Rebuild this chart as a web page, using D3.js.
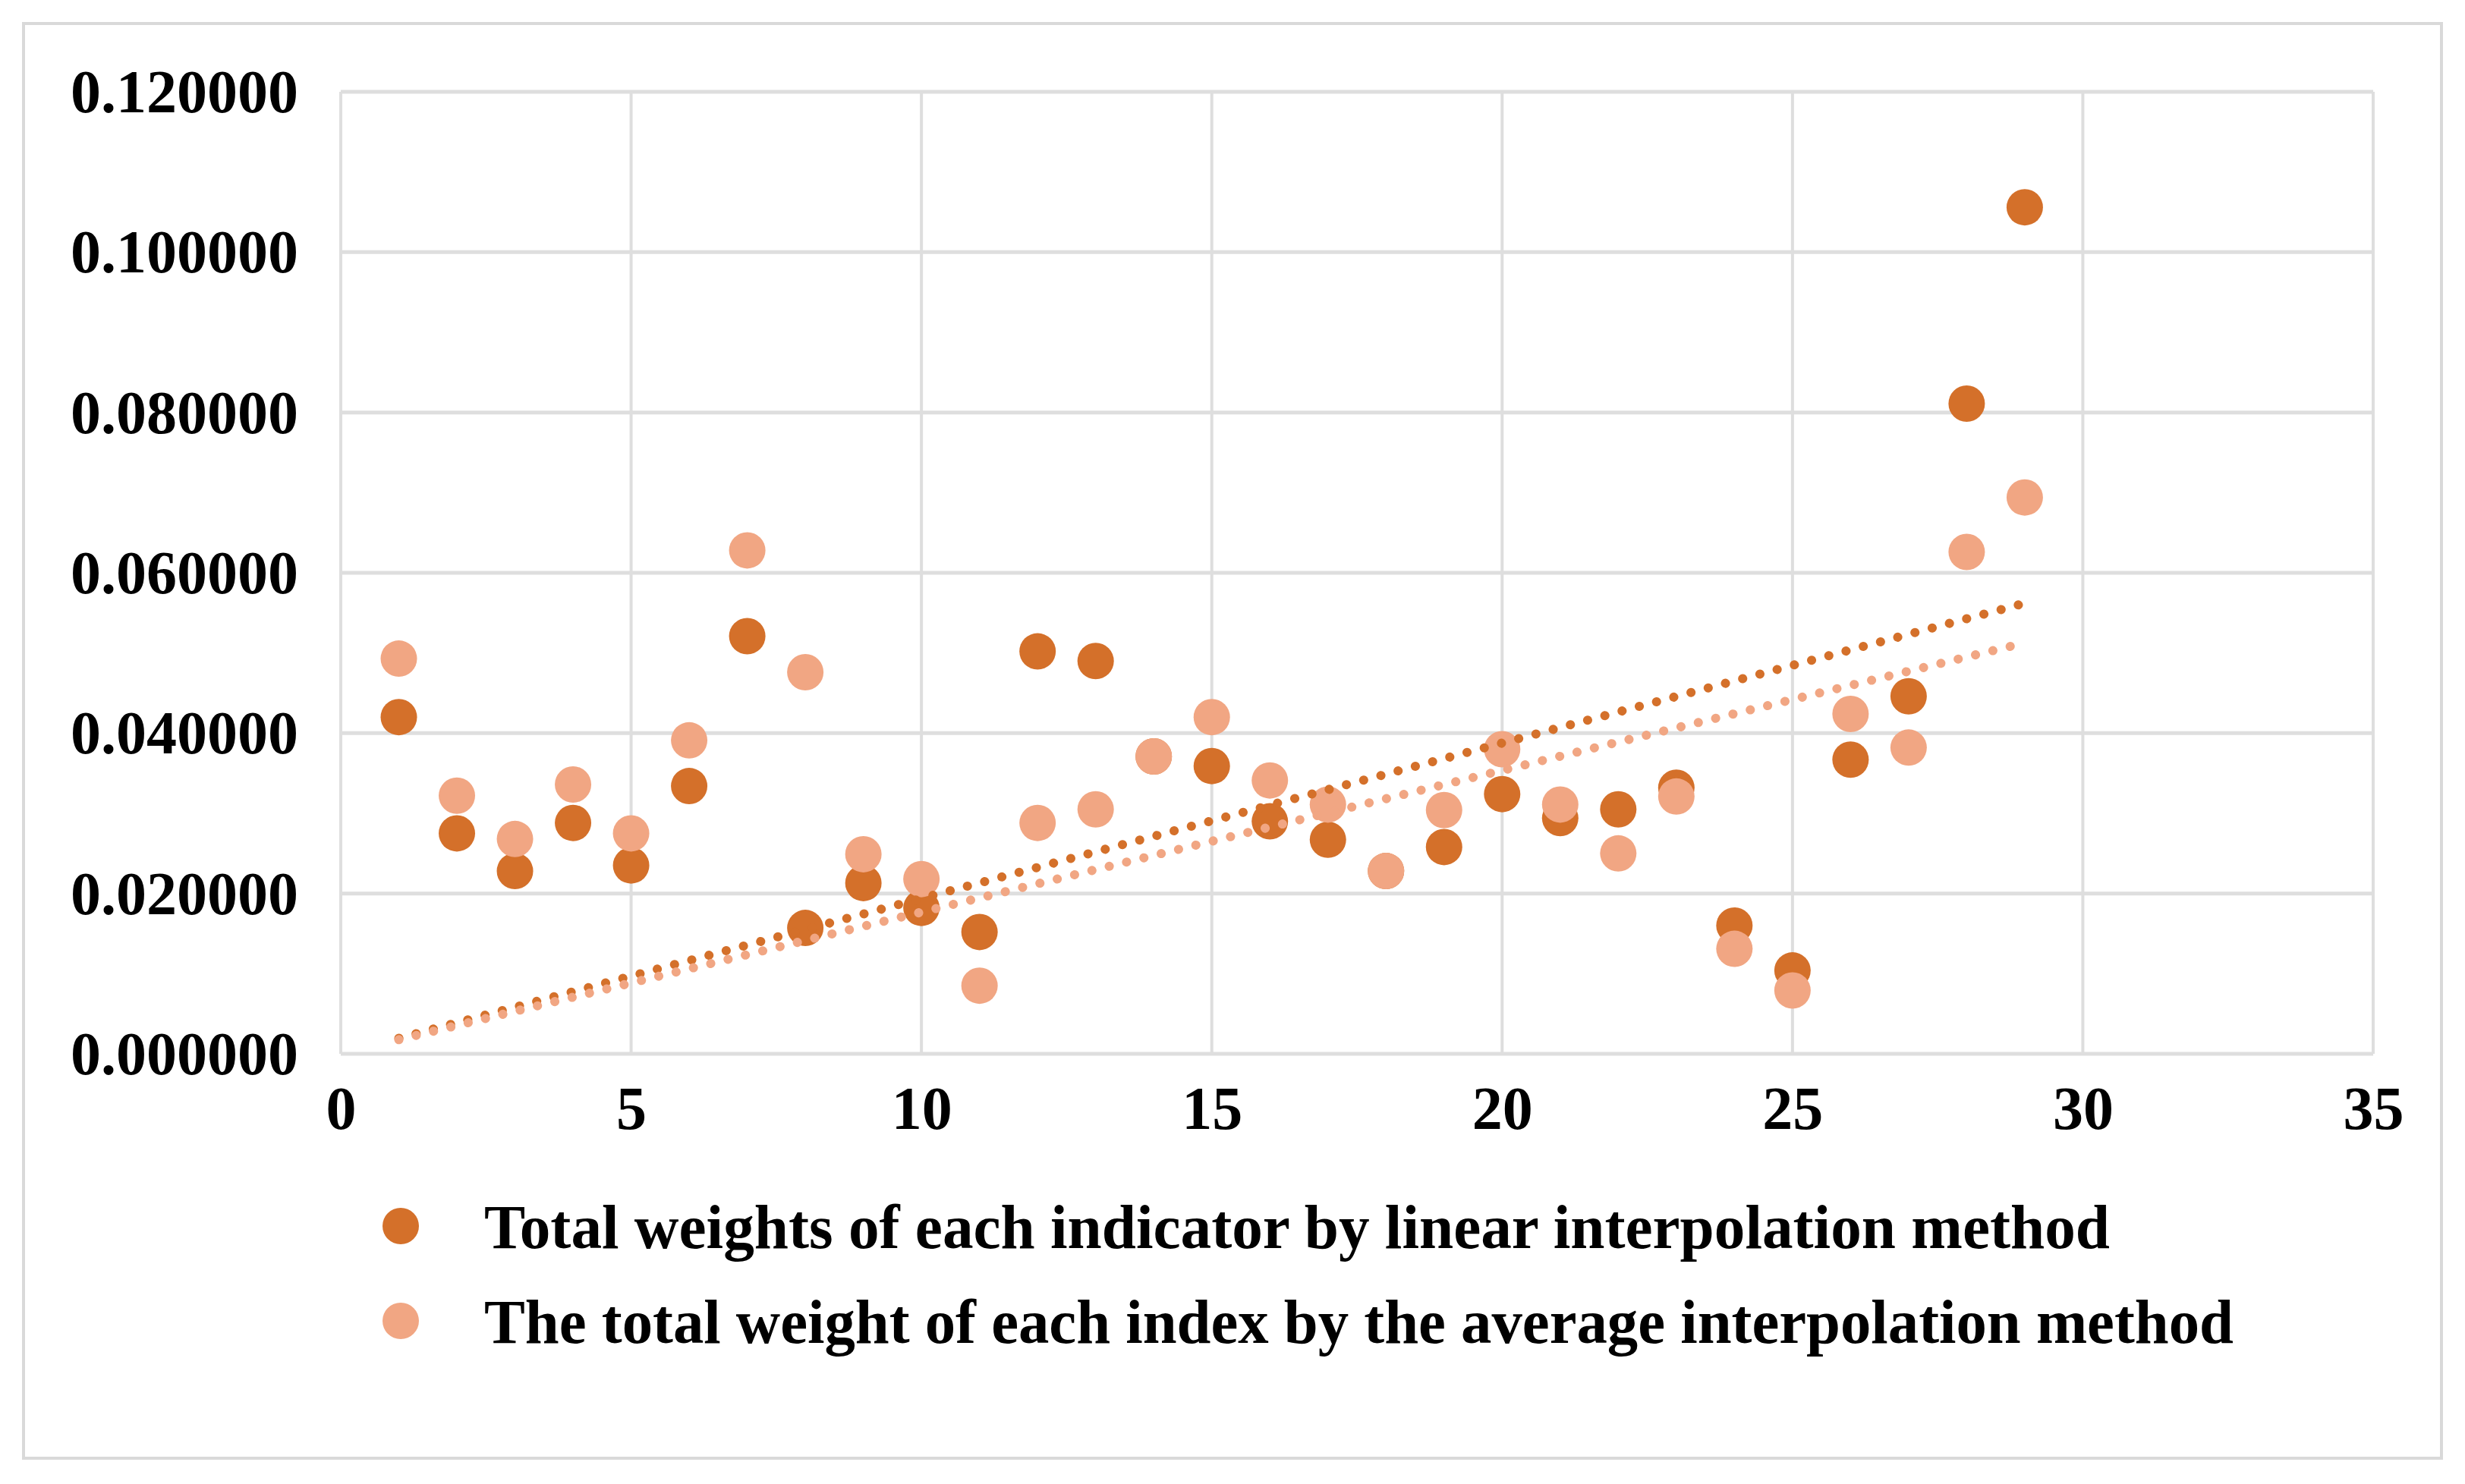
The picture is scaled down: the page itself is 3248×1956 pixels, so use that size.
<!DOCTYPE html>
<html>
<head>
<meta charset="utf-8">
<script src="https://cdn.jsdelivr.net/npm/d3@7"></script>
<style>
body{margin:0;background:#fff;}
</style>
</head>
<body>
<script>
// indicator number (x) and the two weight series
var indicator = [1,2,3,4,5,6,7,8,9,10,11,12,13,14,15,16,17,18,19,20,21,22,23,24,25,26,27,28,29];
var linearWeights = [0.0420,0.0275,0.0228,0.0288,0.0235,0.0334,0.0521,0.0157,0.0213,0.0182,
  0.0152,0.0502,0.0490,0.0371,0.0359,0.0290,0.0267,0.0228,0.0258,0.0324,
  0.0294,0.0305,0.0332,0.0160,0.0104,0.0367,0.0446,0.0811,0.1056];
var averageWeights = [0.0493,0.0322,0.0268,0.0336,0.0275,0.0391,0.0628,0.0476,0.0249,0.0218,
  0.0085,0.0288,0.0305,0.0371,0.0420,0.0341,0.0311,0.0228,0.0304,0.0380,
  0.0311,0.0250,0.0321,0.0131,0.0079,0.0424,0.0382,0.0626,0.0694];
var seriesNames = ["Total weights of each indicator by linear interpolation method",
  "The total weight of each index by the average interpolation method"];
var xTicks = [0,5,10,15,20,25,30,35];
var yTicks = [0,0.02,0.04,0.06,0.08,0.10,0.12];

var colours = ["#d4702a","#f1a683"];
var serif = "'Liberation Serif','Times New Roman',serif";
var W = 3248, H = 1956;
var margin = {top: 121, right: 121, bottom: 567, left: 449};
var width = W - margin.left - margin.right,
    height = H - margin.top - margin.bottom;

var svg = d3.select("body").append("svg")
  .attr("width", W)
  .attr("height", H)
  .style("font-family", serif)
  .style("font-weight", "bold");

// outer frame
svg.append("rect")
  .attr("x", 31).attr("y", 31)
  .attr("width", 3186).attr("height", 1891)
  .attr("fill", "#fff")
  .attr("stroke", "#d9d9d9")
  .attr("stroke-width", 4);

var g = svg.append("g")
  .attr("transform", "translate(" + margin.left + "," + margin.top + ")");

var x = d3.scaleLinear().domain([0, 35]).range([0, width]);
var y = d3.scaleLinear().domain([0, 0.12]).range([height, 0]);

// grid
g.append("g").selectAll("line").data(yTicks).enter().append("line")
  .attr("x1", 0).attr("x2", width)
  .attr("y1", function(d){ return y(d); })
  .attr("y2", function(d){ return y(d); })
  .attr("stroke", "#dedede").attr("stroke-width", 5);
g.append("g").selectAll("line").data(xTicks).enter().append("line")
  .attr("y1", 0).attr("y2", height)
  .attr("x1", function(d){ return x(d); })
  .attr("x2", function(d){ return x(d); })
  .attr("stroke", "#dedede").attr("stroke-width", 4);

// axes labels
var yAxis = d3.axisLeft(y).tickValues(yTicks).tickSize(0).tickPadding(56)
  .tickFormat(function(d){ return d.toFixed(6); });
g.append("g").call(yAxis)
  .attr("font-family", serif).attr("font-size", 80)
  .call(function(a){ a.select(".domain").remove(); })
  .selectAll("text")
  .attr("fill", "#000").attr("dy", "0.33em");

var xAxis = d3.axisBottom(x).tickValues(xTicks).tickSize(0).tickPadding(73)
  .tickFormat(d3.format("d"));
g.append("g").attr("transform", "translate(0," + height + ")").call(xAxis)
  .attr("font-family", serif).attr("font-size", 80)
  .call(function(a){ a.select(".domain").remove(); })
  .selectAll("text")
  .attr("fill", "#000").attr("dy", "0.33em");

// points
var series = [linearWeights, averageWeights];
series.forEach(function(vals, i){
  g.append("g").selectAll("circle").data(vals).enter().append("circle")
    .attr("cx", function(d, j){ return x(indicator[j]); })
    .attr("cy", function(d){ return y(d); })
    .attr("r", 24)
    .attr("fill", colours[i]);
});

// trend lines (linear, intercept set to 0)
series.forEach(function(vals, i){
  var sxy = d3.sum(vals, function(d, j){ return d * indicator[j]; });
  var sxx = d3.sum(indicator, function(v){ return v * v; });
  var k = sxy / sxx;
  var x0 = indicator[0], x1 = indicator[indicator.length - 1];
  g.append("line")
    .attr("x1", x(x0)).attr("y1", y(k * x0))
    .attr("x2", x(x1)).attr("y2", y(k * x1))
    .attr("stroke", colours[i])
    .attr("stroke-width", 12)
    .attr("stroke-linecap", "round")
    .attr("stroke-dasharray", "0.1 23.4");
});

// legend
var legend = svg.append("g").selectAll("g").data(seriesNames).enter().append("g")
  .attr("transform", function(d, i){ return "translate(528," + (1616 + i * 125) + ")"; });
legend.append("circle").attr("r", 24)
  .attr("fill", function(d, i){ return colours[i]; });
legend.append("text")
  .attr("x", 110).attr("dy", "0.35em")
  .attr("font-size", 82)
  .attr("textLength", function(d, i){ return i == 0 ? 2142 : 2305; })
  .attr("lengthAdjust", "spacingAndGlyphs")
  .text(function(d){ return d; });
</script>
</body>
</html>
